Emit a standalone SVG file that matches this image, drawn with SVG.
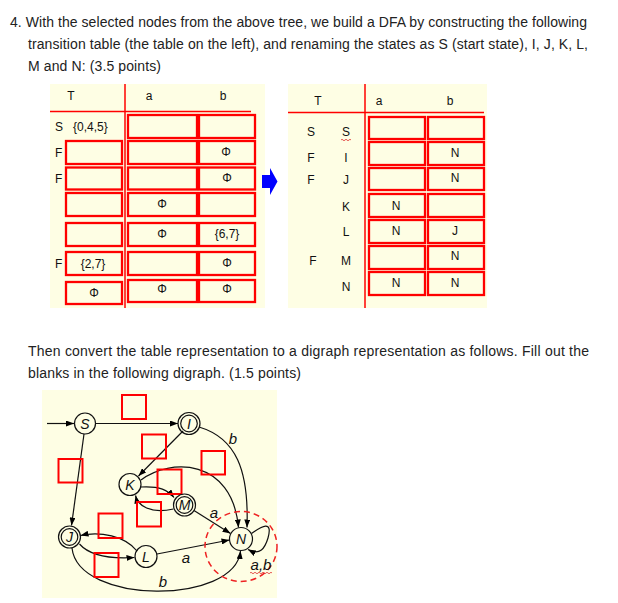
<svg xmlns="http://www.w3.org/2000/svg" width="618" height="603" viewBox="0 0 618 603">
<defs>
<marker id="ah" markerWidth="8" markerHeight="6" refX="8" refY="3" orient="auto" markerUnits="userSpaceOnUse">
<path d="M0,0 L8,3 L0,6 z" fill="#000"/>
</marker>
<style>
.body{font-family:"Liberation Sans",Arial,sans-serif;font-size:14px;fill:#222}
.tt{font-family:"Liberation Sans",Arial,sans-serif;font-size:12px;fill:#111;text-anchor:middle}
.tl{font-family:"Liberation Sans",Arial,sans-serif;font-size:12px;fill:#111}
.bg{fill:#fefee4}
.cell{fill:none;stroke:#ff0000;stroke-width:2.3}
.rl{stroke:#ff0000;stroke-width:1.5}
.blank{fill:none;stroke:#ff0000;stroke-width:2}
.node circle{fill:none;stroke:#111;stroke-width:1.2}
.nl{font-family:"Liberation Sans",Arial,sans-serif;font-size:14px;font-style:italic;fill:#111;text-anchor:middle}
.edge{fill:none;stroke:#111;stroke-width:1.2;marker-end:url(#ah)}
.el{font-family:"Liberation Sans",Arial,sans-serif;font-size:15px;font-style:italic;fill:#111;text-anchor:middle}
</style>
</defs>
<rect width="618" height="603" fill="#fff"/>

<text class="body" x="10" y="27" textLength="577">4. With the selected nodes from the above tree, we build a DFA by constructing the following</text>
<text class="body" x="28" y="49" textLength="560">transition table (the table on the left), and renaming the states as S (start state), I, J, K, L,</text>
<text class="body" x="28" y="71" textLength="133">M and N: (3.5 points)</text>

<g id="table-left">
<rect class="bg" x="50" y="84" width="215" height="224"/>
<line class="rl" x1="125" y1="84" x2="125" y2="308"/>
<line class="rl" x1="50" y1="111.5" x2="251" y2="111.5"/>
<text class="tt" x="71" y="100">T</text>
<text class="tt" x="149" y="100">a</text>
<text class="tt" x="223" y="100">b</text>
<text class="tl" x="55" y="131">S</text>
<text class="tl" x="73" y="131">{0,4,5}</text>
<rect class="cell" x="128" y="115" width="69" height="23"/>
<rect class="cell" x="199" y="115" width="56" height="23"/>
<text class="tl" x="55" y="157">F</text>
<rect class="cell" x="66" y="141" width="56" height="23"/>
<rect class="cell" x="128" y="141" width="69" height="23"/>
<rect class="cell" x="199" y="141" width="56" height="23"/>
<text class="tt" x="226" y="156">Φ</text>
<text class="tl" x="55" y="183">F</text>
<rect class="cell" x="66" y="167.5" width="56" height="22"/>
<rect class="cell" x="128" y="167.5" width="69" height="22"/>
<rect class="cell" x="199" y="167.5" width="56" height="22"/>
<text class="tt" x="227" y="181.5">Φ</text>
<rect class="cell" x="66" y="193" width="56" height="23"/>
<rect class="cell" x="128" y="193" width="69" height="23"/>
<rect class="cell" x="199" y="193" width="56" height="23"/>
<text class="tt" x="162" y="207.5">Φ</text>
<rect class="cell" x="66" y="223" width="56" height="23"/>
<rect class="cell" x="128" y="223" width="69" height="23"/>
<rect class="cell" x="199" y="223" width="56" height="23"/>
<text class="tt" x="162" y="238">Φ</text>
<text class="tt" x="227" y="238">{6,7}</text>
<text class="tl" x="55" y="268">F</text>
<rect class="cell" x="66" y="252" width="56" height="23"/>
<rect class="cell" x="128" y="252" width="69" height="23"/>
<rect class="cell" x="199" y="252" width="56" height="23"/>
<text class="tt" x="93" y="267.5">{2,7}</text>
<text class="tt" x="227" y="267">Φ</text>
<rect class="cell" x="66" y="282" width="56" height="22"/>
<rect class="cell" x="128" y="280" width="69" height="22"/>
<rect class="cell" x="199" y="280" width="56" height="22"/>
<text class="tt" x="94" y="296.5">Φ</text>
<text class="tt" x="162" y="293">Φ</text>
<text class="tt" x="227" y="293">Φ</text>
</g>

<g id="arrow-right">
<polygon points="262,175 270,175 270,168 277.5,181.5 270,195 270,188 262,188" fill="#0000ff"/>
</g>

<g id="table-right">
<rect class="bg" x="288" y="84" width="199" height="224"/>
<line class="rl" x1="365" y1="84" x2="365" y2="308"/>
<line class="rl" x1="288" y1="112.5" x2="484" y2="112.5"/>
<text class="tt" x="318" y="105">T</text>
<text class="tt" x="379" y="105">a</text>
<text class="tt" x="450" y="105">b</text>
<text class="tt" x="311" y="136">S</text>
<text class="tt" x="346" y="136">S</text>
<path d="M341,140 q1,-1.5 2,0 t2,0 t2,0 t2,0 t2,0" fill="none" stroke="#e03030" stroke-width="0.8"/>
<text class="tt" x="311" y="161.5">F</text>
<text class="tt" x="346" y="161.5">I</text>
<text class="tt" x="311" y="183.5">F</text>
<text class="tt" x="346" y="183.5">J</text>
<text class="tt" x="346" y="210.5">K</text>
<text class="tt" x="346" y="236">L</text>
<text class="tt" x="313" y="264.5">F</text>
<text class="tt" x="346" y="264.5">M</text>
<text class="tt" x="346" y="291">N</text>
<rect class="cell" x="369" y="117" width="56" height="22"/>
<rect class="cell" x="428" y="117" width="56" height="22"/>
<rect class="cell" x="369" y="142" width="56" height="23"/>
<rect class="cell" x="428" y="142" width="56" height="23"/>
<text class="tt" x="455" y="156.5">N</text>
<rect class="cell" x="369" y="168" width="56" height="22"/>
<rect class="cell" x="428" y="168" width="56" height="22"/>
<text class="tt" x="455" y="182">N</text>
<rect class="cell" x="369" y="194" width="56" height="23"/>
<rect class="cell" x="428" y="194" width="56" height="23"/>
<text class="tt" x="396" y="209.5">N</text>
<rect class="cell" x="369" y="220" width="56" height="23"/>
<rect class="cell" x="428" y="220" width="56" height="23"/>
<text class="tt" x="396" y="235">N</text>
<text class="tt" x="455" y="235">J</text>
<rect class="cell" x="369" y="246" width="56" height="23"/>
<rect class="cell" x="428" y="246" width="56" height="23"/>
<text class="tt" x="455" y="260">N</text>
<rect class="cell" x="369" y="272" width="56" height="23"/>
<rect class="cell" x="428" y="272" width="56" height="23"/>
<text class="tt" x="396" y="286.5">N</text>
<text class="tt" x="455" y="286.5">N</text>
</g>

<text class="body" x="28" y="356" textLength="561">Then convert the table representation to a digraph representation as follows. Fill out the</text>
<text class="body" x="28" y="378" textLength="273">blanks in the following digraph. (1.5 points)</text>

<rect class="bg" x="42" y="390" width="235" height="208"/>

<g id="connectors">
<path class="edge" d="M47,423.5 L74,423.5" stroke-width="2"/>
<path class="edge" d="M95.5,423.5 L178,423.5"/>
<path class="edge" d="M84,434 L71.5,525.5"/>
<path class="edge" d="M183,431 L138.5,476"/>
<path class="edge" d="M199,427 C236,438 249,470 247,527.5"/>
<path class="edge" d="M141,480 C170,458 232,458 238.5,527.5"/>
<path class="edge" d="M141,487 C160,486 168,490 174,497.5"/>
<path class="edge" d="M173.5,509 C150,514 138,506 135.5,495.5"/>
<path class="edge" d="M194,510.5 L230.5,533.5"/>
<path class="edge" d="M137,551 C125,536 100,531 80.5,535.5"/>
<path class="edge" d="M79.5,544 C90,556 110,559 134.5,557.5"/>
<path class="edge" d="M157,554 L229.5,540"/>
<path class="edge" d="M72,548 C78,605 235,605 240.5,551"/>
<path class="edge" d="M251.5,533.5 C262,526 273,520 268,538 C265,548 260,556 248,549.5"/>
<ellipse cx="241" cy="546.5" rx="36" ry="35" fill="none" stroke="#ee2222" stroke-width="1.5" stroke-dasharray="6,4"/>
<text class="el" x="233" y="444">b</text>
<text class="el" x="214" y="518">a</text>
<text class="el" x="186" y="563">a</text>
<text class="el" x="163" y="587">b</text>
<text class="el" x="261" y="570">a,b</text>
<path d="M250,573 q1,-1.5 2,0 t2,0 t2,0 t2,0 t2,0 t2,0 t2,0 t2,0 t2,0 t2,0 t2,0" fill="none" stroke="#e03030" stroke-width="0.8"/>
</g>

<g id="blanks">
<rect class="blank" x="122" y="395" width="24" height="24"/>
<rect class="blank" x="142" y="434.5" width="24" height="24"/>
<rect class="blank" x="58.5" y="459" width="24" height="23.5"/>
<rect class="blank" x="201.5" y="451" width="23.5" height="23.5"/>
<rect class="blank" x="157.5" y="469.5" width="24" height="24.5"/>
<rect class="blank" x="137" y="502" width="24" height="24.5"/>
<rect class="blank" x="98.5" y="513.5" width="24" height="24.5"/>
<rect class="blank" x="94.5" y="553" width="24" height="24"/>
</g>

<g id="node-S" class="node"><circle cx="85" cy="423.5" r="10.5"/><text class="nl" x="85" y="428.5">S</text></g>
<g id="node-I" class="node"><circle cx="189" cy="423.5" r="11"/><circle cx="189" cy="423.5" r="8.3"/><text class="nl" x="189" y="428.5">I</text></g>
<g id="node-K" class="node"><circle cx="130" cy="484.5" r="11"/><text class="nl" x="130" y="489.5">K</text></g>
<g id="node-M" class="node"><circle cx="184.5" cy="505" r="11"/><circle cx="184.5" cy="505" r="8.3"/><text class="nl" x="184.5" y="510">M</text></g>
<g id="node-J" class="node"><circle cx="69.5" cy="537" r="11"/><circle cx="69.5" cy="537" r="8.3"/><text class="nl" x="69.5" y="542">J</text></g>
<g id="node-L" class="node"><circle cx="146" cy="556.5" r="11"/><text class="nl" x="146" y="561.5">L</text></g>
<g id="node-N" class="node"><circle cx="241" cy="539" r="11.5"/><text class="nl" x="241" y="544">N</text></g>
</svg>
